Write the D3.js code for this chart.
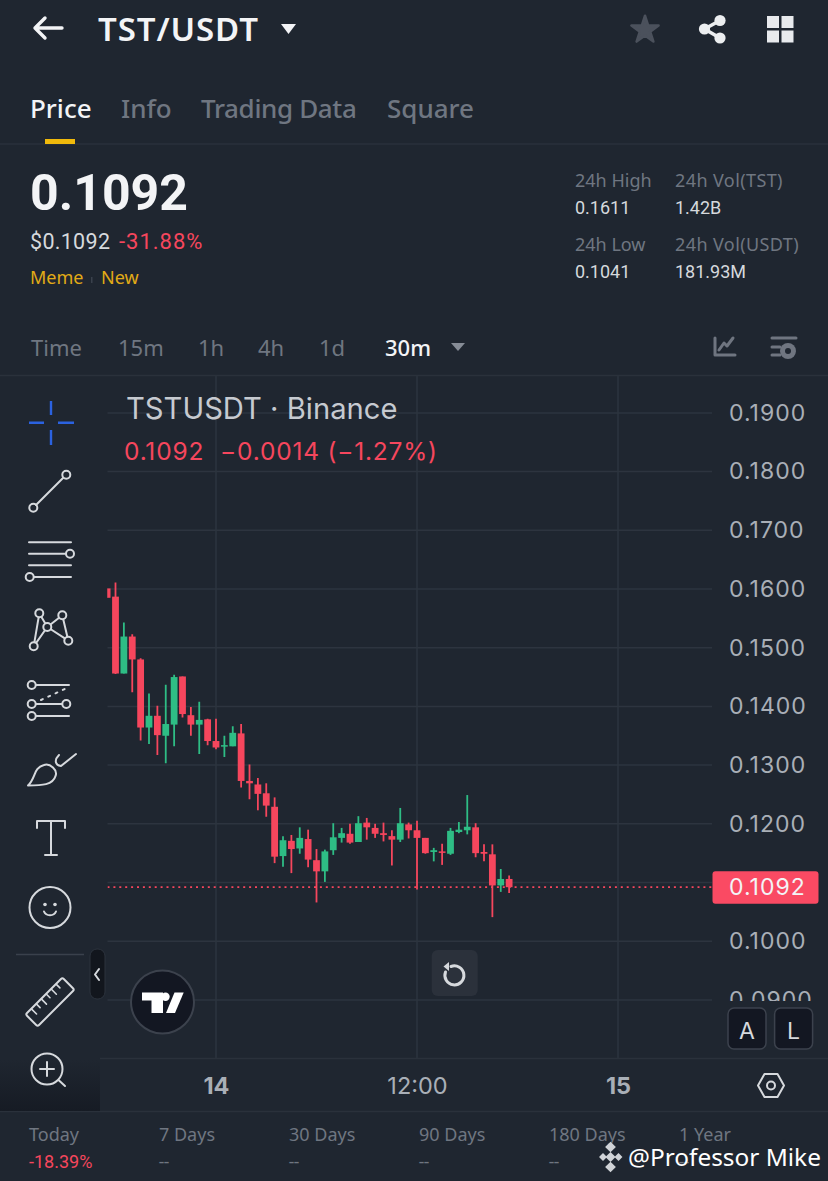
<!DOCTYPE html>
<html>
<head>
    <title>TST/USDT</title>
    <script src="https://d3js.org/d3.v7.min.js"></script>
    <style>
        html, body { margin: 0; padding: 0; background: #1f2630; }
        svg { display: block; }
    </style>
</head>
<body>
<script>
// half-hour slots counted from the "14" midnight gridline
const slots = [-13,-12,-11,-10,-9,-8,-7,-6,-5,-4,-3,-2,-1,0,1,2,3,4,5,6,7,8,9,10,11,12,
    13,14,15,16,17,18,19,20,21,22,23,24,25,26,27,28,29,30,31,32,33,34,35];
const opens = [.1601,.1587,.1456,.1519,.1480,.1364,.1384,.1350,.1369,.1451,.1385,.1369,.1378,.1341,.1332,.1332,.1354,.1273,.1267,.1252,.1229,.1145,.1171,.1158,.1174,.1138,
    .1119,.1155,.1176,.1183,.1169,.1202,.1193,.1184,.1179,.1173,.1199,.1189,.1176,.1152,.1153,.1149,.1186,.1189,.1194,.1152,.1148,.1095,.1106];
const highs = [.1601,.1611,.1543,.1523,.1482,.1422,.1401,.1437,.1454,.1451,.1399,.1408,.1379,.1379,.1350,.1366,.1370,.1301,.1278,.1269,.1245,.1179,.1181,.1194,.1190,.1157,
    .1156,.1201,.1193,.1200,.1213,.1210,.1200,.1202,.1189,.1227,.1202,.1205,.1176,.1159,.1166,.1193,.1203,.1249,.1201,.1165,.1165,.1123,.1112];
const lows = [.1585,.1455,.1456,.1424,.1342,.1336,.1317,.1303,.1332,.1381,.1350,.1319,.1334,.1327,.1314,.1332,.1262,.1242,.1223,.1212,.1133,.1127,.1116,.1149,.1126,.1066,
    .1101,.1147,.1168,.1166,.1169,.1173,.1176,.1170,.1129,.1169,.1175,.1088,.1149,.1136,.1130,.1147,.1184,.1182,.1143,.1136,.1041,.1084,.1082];
const closes = [.1585,.1456,.1519,.1480,.1364,.1384,.1351,.1370,.1450,.1387,.1369,.1377,.1341,.1330,.1334,.1355,.1273,.1269,.1251,.1231,.1144,.1172,.1157,.1176,.1139,.1119,
    .1153,.1177,.1184,.1168,.1201,.1194,.1183,.1181,.1173,.1201,.1189,.1176,.1150,.1155,.1151,.1188,.1190,.1195,.1150,.1149,.1095,.1106,.1092];

const priceTicks = [.19,.18,.17,.16,.15,.14,.13,.12,.11,.10,.09];
const labeledPriceTicks = [.19,.18,.17,.16,.15,.14,.13,.12,.10,.09];
const timeTicks = [0, 24, 48];
const timeLabels = ["14", "12:00", "15"];
const lastPrice = .1092;

const width = 828, height = 1181;
const bg = "#1f2630", up = "#2ebd85", down = "#f6465d", grid = "#2d343f";
const grey = "#6f7681", light = "#d6d9dd", white = "#f3f4f6";
const uiFont = "'Noto Sans', sans-serif", numFont = "Roboto, sans-serif", axisFont = "Inter, sans-serif";

const svg = d3.select("body").append("svg")
    .attr("width", width)
    .attr("height", height)
    .style("background", bg);

function label(x, y, str, size, fill, font, weight) {
    return svg.append("text").attr("x", x).attr("y", y).text(str)
        .attr("font-size", size).attr("fill", fill)
        .attr("font-family", font || uiFont).attr("font-weight", weight || 400);
}
function hline(y, x1, x2, color) {
    svg.append("line").attr("x1", x1).attr("x2", x2).attr("y1", y).attr("y2", y)
        .attr("stroke", color || grid).attr("stroke-width", 1.5);
}

// scales
const x = d3.scaleLinear().domain([0, 48]).range([216, 618]);
const y = d3.scaleLinear().domain([.09, .19]).range([999.9, 412.9]);

svg.append("clipPath").attr("id", "plot").append("rect")
    .attr("x", 107.5).attr("y", 376).attr("width", 605).attr("height", 682);
svg.append("clipPath").attr("id", "prices").append("rect")
    .attr("x", 0).attr("y", 376).attr("width", 116).attr("height", 625);

// gridlines
const plot = svg.append("g").attr("clip-path", "url(#plot)");
plot.selectAll(".gy").data(priceTicks).join("line")
    .attr("x1", 107).attr("x2", 712).attr("y1", d => y(d)).attr("y2", d => y(d))
    .attr("stroke", grid).attr("stroke-width", 1.5);
plot.selectAll(".gx").data(timeTicks).join("line")
    .attr("x1", d => x(d)).attr("x2", d => x(d)).attr("y1", 376).attr("y2", 1058)
    .attr("stroke", grid).attr("stroke-width", 1.5);

// candles
const candles = plot.selectAll(".candle").data(slots).join("g");
candles.append("line")
    .attr("x1", d => x(d)).attr("x2", d => x(d))
    .attr("y1", (d, i) => y(highs[i])).attr("y2", (d, i) => y(lows[i]))
    .attr("stroke", (d, i) => closes[i] >= opens[i] ? up : down)
    .attr("stroke-width", 1.8);
candles.append("rect")
    .attr("x", d => x(d) - 3.4).attr("width", 6.8)
    .attr("y", (d, i) => y(Math.max(opens[i], closes[i])))
    .attr("height", (d, i) => Math.max(1.5, Math.abs(y(opens[i]) - y(closes[i]))))
    .attr("fill", (d, i) => closes[i] >= opens[i] ? up : down);

// last price line
plot.append("line")
    .attr("x1", 107.5).attr("x2", 712).attr("y1", y(lastPrice)).attr("y2", y(lastPrice))
    .attr("stroke", down).attr("stroke-width", 1.8).attr("stroke-dasharray", "2 3.9");

// price axis
const yAxis = svg.append("g")
    .attr("transform", "translate(712,0)")
    .attr("clip-path", "url(#prices)")
    .call(d3.axisRight(y).tickValues(labeledPriceTicks).tickFormat(d3.format(".4f")).tickSize(0).tickPadding(17));
yAxis.select(".domain").remove();
yAxis.selectAll("text").attr("font-size", 23).attr("font-family", axisFont).attr("fill", "#a9afb7").attr("letter-spacing", 1);

svg.append("rect").attr("x", 712.5).attr("y", y(lastPrice) - 16).attr("width", 106).attr("height", 32.5)
    .attr("rx", 3).attr("fill", "#fa4a63");
label(729, y(lastPrice) + 8.2, d3.format(".4f")(lastPrice), 23, white, axisFont).attr("letter-spacing", 1);

// time axis
const xAxis = svg.append("g")
    .attr("transform", "translate(0,1058)")
    .call(d3.axisBottom(x).tickValues(timeTicks).tickFormat((d, i) => timeLabels[i]).tickSize(0).tickPadding(19));
xAxis.select(".domain").remove();
xAxis.selectAll("text")
    .attr("font-size", 23.5).attr("font-family", axisFont).attr("fill", "#a9afb7")
    .attr("font-weight", (d, i) => timeLabels[i].includes(":") ? 400 : 700);

// separators
hline(144, 0, 828, "#2a313b");
hline(375.5, 0, 828, "#2a313b");
hline(1058.5, 100, 828, "#2a313b");
hline(1111.5, 0, 828, "#2a313b");

// header
const stroke = (sel, c, w) => sel.attr("fill", "none").attr("stroke", c).attr("stroke-width", w)
    .attr("stroke-linecap", "round").attr("stroke-linejoin", "round");
function p(d, c, w) { return stroke(svg.append("path").attr("d", d), c || light, w || 2); }
function ring(cx, cy, r, c, w) {
    return stroke(svg.append("circle").attr("cx", cx).attr("cy", cy).attr("r", r), c || light, w || 2);
}
function solid(d, c) { return svg.append("path").attr("d", d).attr("fill", c); }

p("M35 28H62M45 18L35 28L45 38", white, 3.4);
label(98, 41, "TST/USDT", 33, white, uiFont, 600).attr("letter-spacing", 0.9);
solid("M281 24H296L288.5 34Z", white);
svg.append("path").attr("d", d3.symbol(d3.symbolStar, 230)).attr("transform", "translate(645,30)").attr("fill", "#4b515c")
    .attr("stroke", "#4b515c").attr("stroke-width", 2.5).attr("stroke-linejoin", "round");
p("M720 20.5L704.5 29L720 38", "#eceef0", 3.6);
[[720, 20.5], [704.5, 29], [720, 38]].forEach(c => svg.append("circle").attr("cx", c[0]).attr("cy", c[1]).attr("r", 5.6).attr("fill", "#eceef0"));
[[767, 16], [781.5, 16], [767, 30.5], [781.5, 30.5]].forEach(c =>
    svg.append("rect").attr("x", c[0]).attr("y", c[1]).attr("width", 12).attr("height", 12).attr("fill", "#e8eaed"));

// tabs
label(30, 118, "Price", 26, white, uiFont, 500);
label(121, 118, "Info", 26, grey, uiFont, 500);
label(201, 118, "Trading Data", 26, grey, uiFont, 500).attr("letter-spacing", -0.35);
label(387, 118, "Square", 26, grey, uiFont, 500);
svg.append("rect").attr("x", 45).attr("y", 139).attr("width", 30).attr("height", 5).attr("fill", "#f0b90b");

// price block
label(30, 210, "0.1092", 50, white, numFont, 700);
label(30, 249, "$0.1092", 21.5, light, numFont, 400).attr("letter-spacing", 0.3);
label(119, 249, "-31.88%", 22, down, numFont, 400).attr("letter-spacing", 1);
label(30, 284, "Meme", 18, "#e2ab16", uiFont);
label(101, 284, "New", 18, "#e2ab16", uiFont);
svg.append("rect").attr("x", 91).attr("y", 277).attr("width", 1.5).attr("height", 6).attr("fill", "#3a414c");

label(575, 187, "24h High", 18, grey);
label(575, 214, "0.1611", 18, light, numFont);
label(675, 187, "24h Vol(TST)", 18, grey).attr("letter-spacing", 0.4);
label(675, 214, "1.42B", 18, light, numFont);
label(575, 251, "24h Low", 18, grey);
label(575, 278, "0.1041", 18, light, numFont);
label(675, 251, "24h Vol(USDT)", 18, grey).attr("letter-spacing", 0.4);
label(675, 278, "181.93M", 18, light, numFont);

// intervals
label(31, 356, "Time", 22, grey);
label(118, 356, "15m", 22, grey);
label(198, 356, "1h", 22, grey);
label(258, 356, "4h", 22, grey);
label(319, 356, "1d", 22, grey);
label(385, 356, "30m", 22, white, uiFont, 500);
solid("M451 343H465L458 351Z", "#868c96");
p("M715 338V355H735M719 350L724 343L727 346L733 338", "#6f7580", 3);
p("M772 338H796M772 347H780M772 355H780", "#6f7580", 3);
svg.append("path").attr("d", d3.symbol(d3.symbolCircle, 200)).attr("transform", "translate(788,351)").attr("fill", "#6f7580");
svg.append("circle").attr("cx", 788).attr("cy", 351).attr("r", 3).attr("fill", bg);

// chart legend
label(126, 419, "TSTUSDT · Binance", 29.2, "#c6cad0", axisFont);
label(124, 460, "0.1092", 24.5, down, axisFont).attr("letter-spacing", 0.8);
label(220, 460, "−0.0014 (−1.27%)", 24.5, down, axisFont).attr("letter-spacing", 0.8);

// left toolbar
const cross = "#2b62e0";
p("M51 401V415M51 430V445M29 422.7H44M58 422.7H74", cross, 2.4).attr("stroke-linecap", "butt");

p("M36 505L63 478", light);
ring(33.3, 507.7, 4); ring(66.3, 474.7, 4);

p("M29 542.3H71M29 553.7H66M29 565.3H71M34 577H71", light);
ring(70, 553.7, 4); ring(29.7, 577, 4);

p("M39.3 613.3L33.7 646.3M39.3 613.3L47.3 627M33.7 646.3L47.3 627M47.3 627L62.3 615.3M47.3 627L68.3 640.7M62.3 615.3L68.3 640.7", light);
[[39.3, 613.3], [62.3, 615.3], [47.3, 627], [33.7, 646.3], [68.3, 640.7]].forEach(c => ring(c[0], c[1], 4).attr("fill", bg));

p("M36 685H69M36 704H62M36 716H69", light);
p("M41 700L67 688", light).attr("stroke-dasharray", "2 6");
ring(31.7, 685, 4); ring(31.7, 704, 4); ring(66.3, 704, 4); ring(31.7, 716, 4);

p("M28 785.5C36 778 33 768 44 765C50 763 58 770 55.5 776C53 785 42 785.5 28 785.5Z M59 755C54 760 55 765 61 766L76 754", light);
p("M37 828V821H65V828M51 821V855M45 855H57", light);
ring(50, 907.5, 20.5);
svg.append("circle").attr("cx", 45).attr("cy", 904.5).attr("r", 1.8).attr("fill", light);
svg.append("circle").attr("cx", 55).attr("cy", 904.5).attr("r", 1.8).attr("fill", light);
p("M44 911.5C46 916.5 54 916.5 56 911.5", light);

hline(954.5, 16, 84, "#3a414c");
svg.append("rect").attr("x", 90).attr("y", 949).attr("width", 15).attr("height", 50).attr("rx", 7).attr("fill", "#12161d").attr("stroke", "#2c333d");
p("M99 969L95 974.5L99 980", light);

const ruler = svg.append("g").attr("transform", "translate(50,1002) rotate(-45)");
stroke(ruler.append("rect").attr("x", -26).attr("y", -8.5).attr("width", 52).attr("height", 17).attr("rx", 2), light, 2);
stroke(ruler.append("path").attr("d", "M-18 -8V-1M-11 -8V-3M-4 -8V-1M3 -8V-3M10 -8V-1M17 -8V-3"), light, 1.6);

ring(47, 1069, 15.5);
p("M40 1069H54M47 1062V1076M58.5 1080L65 1086", light);

// fade behind the zoom tool
const fade = svg.append("defs").append("linearGradient").attr("id", "fade").attr("x2", 0).attr("y2", 1);
fade.append("stop").attr("offset", 0).attr("stop-color", bg);
fade.append("stop").attr("offset", 1).attr("stop-color", "#161b24");
svg.insert("rect", "path").attr("x", 0).attr("y", 1060).attr("width", 100).attr("height", 51).attr("fill", "url(#fade)");

// tradingview badge
svg.append("circle").attr("cx", 162.5).attr("cy", 1002).attr("r", 31.5).attr("fill", "#131722").attr("stroke", "#3c424d").attr("stroke-width", 2);
solid("M142 992.5H163V1013H151.5V1000.5H142Z", "#fff");
svg.append("circle").attr("cx", 165.5).attr("cy", 996.8).attr("r", 4.2).attr("fill", "#fff");
solid("M174.5 992.5H183.7L175 1013H166Z", "#fff");

// reset button
svg.append("rect").attr("x", 431.7).attr("y", 950).attr("width", 46).attr("height", 46).attr("rx", 6).attr("fill", "#2b313b");
p("M451 966.5A9.5 9.5 0 1 1 445.5 972", "#d6d9dd", 3);
solid("M449 962V971L443.5 966.5Z", "#d6d9dd");

// auto / log buttons
[[728, "A"], [774.6, "L"]].forEach(b => {
    svg.append("rect").attr("x", b[0]).attr("y", 1008).attr("width", 38).attr("height", 41).attr("rx", 6)
        .attr("fill", "#131722").attr("stroke", "#3c424d").attr("stroke-width", 1.5);
    label(b[0] + 19, 1038.5, b[1], 23, light, axisFont).attr("text-anchor", "middle");
});

// settings hexagon
p("M758 1085.5L764.5 1074H777.5L784 1085.5L777.5 1097H764.5Z", light);
ring(771, 1085.5, 4);

// period stats
const periods = [[29, "Today", "-18.39%"], [159, "7 Days", "--"], [289, "30 Days", "--"], [419, "90 Days", "--"], [549, "180 Days", "--"], [679, "1 Year", "--"]];
periods.forEach((d, i) => {
    label(d[0], 1141, d[1], 18, grey);
    label(d[0], 1168, d[2], 18, i === 0 ? down : grey, numFont);
});

// watermark
[[610.5, 1147, 3.8], [603, 1157, 2.8], [618.5, 1157, 2.8], [610.5, 1157, 3.6], [610.5, 1167, 3.8]].forEach(d =>
    svg.append("rect").attr("x", -d[2]).attr("y", -d[2]).attr("width", 2 * d[2]).attr("height", 2 * d[2])
        .attr("transform", `translate(${d[0]},${d[1]}) rotate(45)`).attr("fill", "#d0d3d7"));
label(628, 1166, "@Professor Mike", 24.4, "#ffffff", uiFont);
</script>
</body>
</html>
